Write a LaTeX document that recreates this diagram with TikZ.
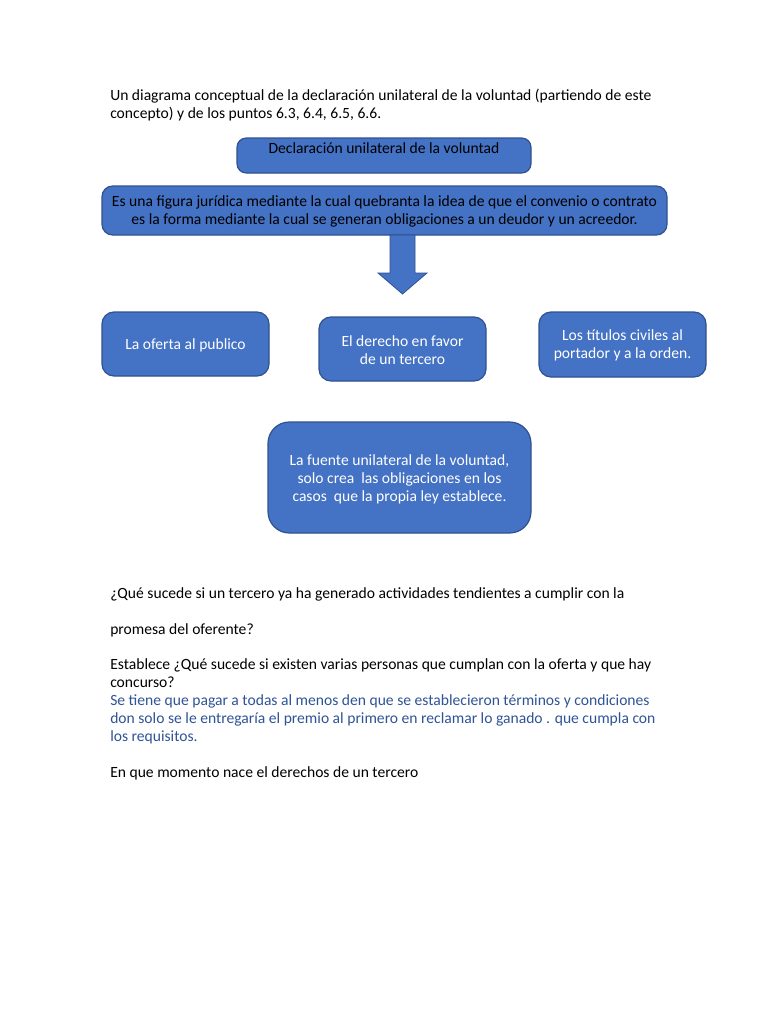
\documentclass[tikz,border=0pt]{standalone}
\usepackage{fontspec}
\setmainfont{Carlito}
\usetikzlibrary{fit}
\definecolor{boxfill}{HTML}{4472C4}
\definecolor{boxline}{HTML}{2F528F}
\definecolor{ansblue}{HTML}{2F5496}
\begin{document}
\begin{tikzpicture}[x=0.75pt,y=-0.75pt,
  box/.style={draw=boxline,fill=boxfill,line width=0.9pt,rounded corners=#1,inner sep=0pt},
  box/.default=7pt,
  para/.style={anchor=base west,inner sep=0pt,font=\fontsize{11.7pt}{13.5pt}\selectfont},
  intext/.style={align=center,inner sep=0pt,font=\fontsize{11.7pt}{13.5pt}\selectfont},
  bigarrow/.style={fill=boxfill,draw=boxline,line width=0.6pt,line join=miter}]
\fill[white] (0,0) rectangle (768,1024);
\useasboundingbox (0,0) rectangle (768,1024);

% header paragraph
\node[para] (h1) at (110,100) {Un diagrama conceptual de la declaración unilateral de la voluntad (partiendo de este};
\node[para] (h2) at (110,118) {concepto) y de los puntos 6.3, 6.4, 6.5, 6.6.};

% title box
\node[box, fit={(237,138) (531,173)}] (title) {};
\node[intext] (titletxt) at (384,148.5) {Declaración unilateral de la voluntad};

% definition box
\node[box=8pt, fit={(102,186) (667,235)}] (def) {};
\node[intext] (deftxt) at (384.5,211) {Es una figura jurídica mediante la cual quebranta la idea de que el convenio o contrato\\es la forma mediante la cual se generan obligaciones a un deudor y un acreedor.};

% block arrow
\filldraw[bigarrow] (390,235) -- (415,235) -- (415,273) -- (427,273) -- (402.5,294) -- (378,273) -- (390,273) -- cycle;

% three boxes
\node[box=9pt, fit={(102,312) (269,376)}] (oferta) {};
\node[intext,text=white] (ofertatxt) at (185.5,345) {La oferta al publico};

\node[box=9pt, fit={(319,317) (486,381)}] (derecho) {};
\node[intext,text=white] (derechotxt) at (402.5,350) {El derecho en favor\\de un tercero};

\node[box=9pt, fit={(539,312) (706,377)}] (titulos) {};
\node[intext,text=white] (titulostxt) at (622.5,345) {Los títulos civiles al\\portador y a la orden.};

% bottom box
\node[box=16pt, fit={(268,422) (531,533)}] (fuente) {};
\node[intext,text=white] (fuentetxt) at (399.5,479) {La fuente unilateral de la voluntad,\\solo crea\ \ las obligaciones en los\\casos\ \ que la propia ley establece.};

% questions
\node[para] (q1) at (110,598) {¿Qué sucede si un tercero ya ha generado actividades tendientes a cumplir con la};
\node[para] (q2) at (110,634) {promesa del oferente?};
\node[para] (q3) at (110,669) {Establece ¿Qué sucede si existen varias personas que cumplan con la oferta y que hay};
\node[para] (q4) at (110,687) {concurso?};
\node[para,text=ansblue] (a1) at (110,705) {Se tiene que pagar a todas al menos den que se establecieron términos y condiciones};
\node[para,text=ansblue] (a2) at (110,723) {don solo se le entregaría el premio al primero en reclamar lo ganado . que cumpla con};
\node[para,text=ansblue] (a3) at (110,741) {los requisitos.};
\node[para] (q5) at (110,777) {En que momento nace el derechos de un tercero};
\end{tikzpicture}
\end{document}
